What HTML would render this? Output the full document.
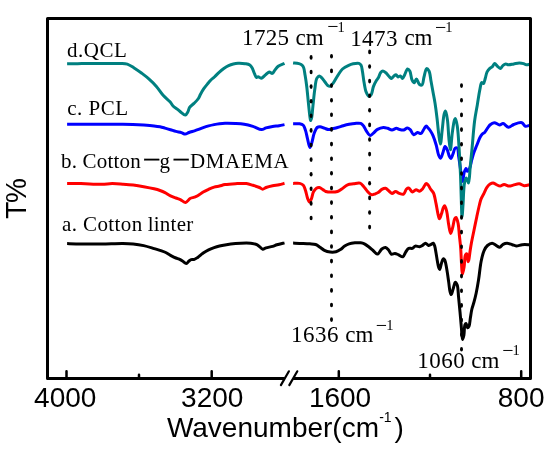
<!DOCTYPE html>
<html><head><meta charset="utf-8"><style>
html,body{margin:0;padding:0;background:#fff;}
svg{display:block;}
.serif{font-family:"Liberation Serif",serif;}
.sans{font-family:"Liberation Sans",sans-serif;}
</style></head><body>
<svg width="550" height="449" viewBox="0 0 550 449">
<rect x="0" y="0" width="550" height="449" fill="#fff"/>
<g fill="none" stroke-width="3" stroke-linejoin="round" stroke-linecap="butt">
<path d="M67.10,243.60 C69.40,243.67 75.82,243.93 80.90,244.00 C87.15,244.09 94.83,244.10 101.80,244.00 C108.79,243.90 117.02,243.34 122.80,243.40 C126.87,243.44 129.74,243.54 133.20,243.90 C136.70,244.27 140.23,244.82 143.70,245.60 C147.20,246.38 150.63,247.54 154.10,248.60 C157.60,249.67 161.65,250.71 164.60,252.00 C166.91,253.01 168.57,254.28 170.50,255.30 C172.33,256.27 174.30,257.31 175.90,258.00 C177.12,258.52 178.12,258.71 179.20,259.20 C180.32,259.71 181.38,260.32 182.50,261.00 C183.74,261.74 185.17,263.59 186.30,263.50 C187.31,263.42 188.12,261.68 189.00,261.00 C189.74,260.43 190.36,259.87 191.20,259.60 C192.13,259.30 193.36,259.72 194.40,259.40 C195.54,259.04 196.49,258.24 197.70,257.40 C199.33,256.27 201.34,254.39 203.20,253.10 C204.97,251.87 206.75,250.73 208.60,249.80 C210.39,248.90 212.26,248.24 214.10,247.60 C215.89,246.98 217.68,246.45 219.50,246.00 C221.31,245.55 222.87,245.25 225.00,244.90 C227.93,244.43 231.67,243.87 235.50,243.60 C240.09,243.27 246.69,242.89 250.70,243.30 C253.37,243.57 255.31,243.83 257.30,244.80 C259.32,245.78 261.05,248.94 262.70,249.20 C263.88,249.38 264.69,248.30 266.00,247.90 C267.81,247.34 270.65,246.98 272.60,246.40 C274.20,245.92 275.25,245.31 276.90,244.80 C279.06,244.13 283.23,243.22 284.50,242.90" stroke="#000000"/>
<path d="M293.10,243.10 C294.67,243.15 299.57,243.27 302.50,243.40 C305.09,243.51 307.51,243.60 309.80,243.80 C311.85,243.98 313.86,243.89 315.60,244.50 C317.24,245.07 318.55,246.23 320.00,247.20 C321.49,248.19 322.75,249.59 324.40,250.40 C326.13,251.25 328.25,251.87 330.20,252.10 C332.11,252.32 334.24,252.26 336.00,251.80 C337.62,251.37 338.99,250.52 340.40,249.60 C341.90,248.62 343.20,246.98 344.70,246.00 C346.11,245.08 347.49,244.33 349.10,243.80 C350.86,243.22 352.96,242.97 354.90,242.80 C356.83,242.64 359.00,242.55 360.70,242.80 C362.09,243.00 363.17,243.32 364.40,243.90 C365.83,244.58 367.29,245.73 368.70,246.80 C370.19,247.92 371.63,249.28 373.10,250.50 C374.56,251.71 376.10,254.23 377.50,254.10 C379.01,253.96 380.28,250.11 381.80,249.00 C382.98,248.14 384.38,247.35 385.50,247.50 C386.57,247.64 387.51,248.75 388.40,249.70 C389.47,250.85 390.08,253.59 391.30,254.10 C392.32,254.53 393.72,253.29 394.90,253.40 C396.12,253.51 397.24,254.29 398.50,254.80 C399.90,255.37 401.71,257.08 402.90,256.70 C404.19,256.29 404.78,253.35 405.80,251.90 C406.72,250.58 407.52,248.87 408.70,248.30 C409.76,247.79 411.30,248.67 412.40,248.30 C413.49,247.93 414.17,246.38 415.30,246.10 C416.54,245.79 418.33,246.98 419.60,246.80 C420.69,246.64 421.55,245.97 422.50,245.40 C423.52,244.79 424.51,243.19 425.50,243.20 C426.48,243.21 427.45,245.23 428.40,245.40 C429.18,245.54 429.93,245.02 430.70,244.70 C431.56,244.34 432.64,243.09 433.30,243.30 C433.97,243.51 434.30,244.86 434.70,246.00 C435.29,247.70 435.58,250.36 436.00,252.70 C436.45,255.25 436.83,258.16 437.30,260.70 C437.73,263.04 438.16,265.85 438.70,267.40 C439.01,268.29 439.36,269.43 439.70,269.40 C440.26,269.35 440.74,265.26 441.40,263.40 C441.99,261.72 442.70,258.84 443.40,258.70 C443.82,258.62 444.31,259.29 444.70,260.00 C445.56,261.56 446.09,265.47 446.70,268.70 C447.45,272.67 448.11,278.04 448.70,282.10 C449.19,285.48 449.42,289.13 450.00,291.40 C450.35,292.77 450.76,294.61 451.20,294.60 C451.79,294.59 452.53,290.72 453.20,288.70 C453.90,286.59 454.48,282.32 455.30,282.20 C455.88,282.12 456.70,283.65 457.20,285.00 C458.16,287.59 458.15,293.10 458.60,297.40 C459.09,302.04 459.54,306.95 460.00,311.90 C460.48,317.08 460.95,322.92 461.40,327.80 C461.78,331.97 461.90,339.33 462.50,339.40 C462.88,339.44 463.53,336.86 463.90,335.10 C464.46,332.45 464.14,326.69 464.90,324.90 C465.22,324.14 465.74,323.43 466.10,323.50 C466.66,323.61 466.87,327.64 467.50,327.80 C467.93,327.91 468.59,327.17 469.00,326.40 C469.85,324.80 469.92,320.60 470.40,317.70 C470.88,314.80 471.25,311.75 471.90,309.00 C472.50,306.44 473.41,304.25 474.10,301.70 C474.85,298.94 475.52,296.23 476.20,293.00 C477.04,289.00 477.83,284.36 478.60,279.50 C479.50,273.83 480.10,266.25 481.20,261.00 C482.03,257.01 482.83,253.38 484.10,250.60 C485.06,248.51 486.08,246.73 487.50,245.50 C488.79,244.38 490.62,243.29 492.10,243.30 C493.48,243.31 494.81,244.62 496.10,245.30 C497.34,245.95 498.56,247.42 499.70,247.30 C500.90,247.17 501.83,244.97 503.10,244.30 C504.31,243.66 505.69,243.28 507.10,243.30 C508.70,243.32 510.61,244.24 512.20,244.70 C513.62,245.11 514.72,245.83 516.20,245.90 C517.99,245.98 520.09,244.91 522.20,244.70 C524.50,244.47 528.28,244.70 529.50,244.70" stroke="#000000"/>
<path d="M67.10,183.60 C69.40,183.60 75.82,183.53 80.90,183.60 C87.15,183.69 96.02,184.28 101.80,184.20 C105.90,184.14 108.80,183.60 112.30,183.60 C115.80,183.60 119.31,183.95 122.80,184.20 C126.28,184.45 129.73,184.69 133.20,185.10 C136.70,185.52 140.22,186.08 143.70,186.70 C147.18,187.32 151.13,188.07 154.10,188.80 C156.36,189.35 158.13,189.84 160.00,190.50 C161.75,191.12 163.32,191.76 165.00,192.60 C166.82,193.51 168.64,194.89 170.50,195.80 C172.28,196.67 174.19,197.34 175.90,198.00 C177.44,198.59 178.78,198.93 180.30,199.60 C182.03,200.36 184.06,202.60 185.70,202.40 C187.32,202.20 188.54,199.37 190.10,198.50 C191.46,197.74 193.07,197.68 194.40,197.20 C195.59,196.77 196.50,196.46 197.70,195.80 C199.34,194.90 201.34,193.10 203.20,192.00 C204.97,190.95 206.77,190.12 208.60,189.30 C210.41,188.49 212.25,187.65 214.10,187.10 C215.88,186.57 217.70,186.41 219.50,186.00 C221.33,185.58 222.86,184.96 225.00,184.60 C227.92,184.11 231.96,183.87 235.50,183.70 C239.10,183.53 243.26,183.21 246.40,183.60 C248.87,183.91 250.74,184.66 252.90,185.30 C255.10,185.95 257.72,186.74 259.50,187.50 C260.79,188.05 261.62,189.19 262.70,189.20 C263.79,189.21 264.68,188.01 266.00,187.50 C267.79,186.80 270.39,186.15 272.60,185.70 C274.76,185.26 277.05,185.23 279.10,184.80 C281.00,184.41 283.60,183.55 284.50,183.30" stroke="#ff0000"/>
<path d="M293.10,183.40 C294.18,183.40 297.78,182.96 299.60,183.40 C301.06,183.75 302.34,184.28 303.30,185.30 C304.40,186.48 304.84,188.48 305.50,190.40 C306.31,192.74 306.78,196.30 307.60,198.40 C308.17,199.88 308.86,201.98 309.50,202.00 C310.09,202.02 310.74,200.33 311.30,199.10 C312.13,197.26 312.48,193.73 313.50,191.80 C314.29,190.30 315.30,188.90 316.40,188.20 C317.28,187.64 318.31,187.35 319.30,187.50 C320.47,187.67 321.77,188.90 322.90,189.60 C323.93,190.24 324.61,191.08 325.80,191.50 C327.35,192.05 329.66,192.10 331.60,192.10 C333.56,192.10 335.75,192.09 337.50,191.50 C339.11,190.96 340.28,189.90 341.80,188.90 C343.61,187.72 345.56,185.64 347.60,184.80 C349.47,184.03 351.48,184.08 353.50,183.80 C355.61,183.51 358.25,182.53 360.00,183.10 C361.51,183.60 362.44,185.14 363.60,186.40 C364.89,187.80 365.94,189.78 367.30,191.20 C368.61,192.57 370.13,194.48 371.60,194.80 C372.81,195.07 374.15,194.19 375.30,193.80 C376.34,193.45 377.23,193.21 378.20,192.60 C379.40,191.85 380.51,190.12 381.80,189.40 C382.96,188.76 384.39,188.10 385.50,188.30 C386.58,188.50 387.39,189.71 388.40,190.50 C389.54,191.39 390.76,193.28 392.00,193.40 C393.16,193.51 394.39,191.51 395.60,191.50 C396.82,191.49 397.98,192.97 399.30,193.40 C400.65,193.84 402.44,194.65 403.60,194.10 C404.94,193.46 405.43,189.98 406.50,189.00 C407.19,188.37 407.93,187.85 408.70,188.00 C409.85,188.22 411.10,191.73 412.40,191.90 C413.55,192.05 414.78,189.79 416.00,189.70 C417.18,189.61 418.50,191.34 419.60,191.20 C420.66,191.06 421.55,189.99 422.50,189.00 C423.77,187.67 425.04,183.77 426.20,183.60 C426.96,183.49 427.74,184.62 428.40,185.40 C429.20,186.34 429.70,187.79 430.50,189.00 C431.38,190.32 432.67,191.25 433.50,193.00 C434.71,195.57 435.25,199.90 436.00,203.40 C436.75,206.93 437.31,211.29 438.00,214.10 C438.46,215.97 438.84,218.67 439.40,218.70 C439.97,218.73 440.78,215.80 441.40,214.10 C442.13,212.10 442.65,208.82 443.40,207.40 C443.81,206.63 444.28,205.73 444.70,205.80 C445.41,205.92 446.12,209.10 446.70,211.40 C447.57,214.87 447.95,220.84 448.70,224.80 C449.31,228.00 449.97,233.37 450.70,233.40 C451.32,233.43 452.08,229.60 452.70,227.40 C453.43,224.78 453.80,220.26 454.70,218.70 C455.12,217.98 455.67,217.29 456.10,217.40 C456.88,217.60 457.58,221.02 458.10,223.40 C458.82,226.70 458.97,231.40 459.40,235.50 C459.84,239.73 460.37,244.06 460.70,248.40 C461.04,252.80 461.11,257.31 461.40,261.70 C461.68,266.01 461.84,274.46 462.40,274.50 C462.83,274.53 463.63,269.88 464.10,267.10 C464.69,263.60 464.50,257.08 465.40,255.10 C465.76,254.31 466.33,253.59 466.70,253.70 C467.45,253.92 467.63,261.64 468.10,261.70 C468.30,261.73 468.51,261.05 468.70,260.40 C469.20,258.72 469.63,254.01 470.10,251.00 C470.53,248.22 470.86,245.97 471.40,243.00 C472.09,239.23 473.11,234.52 474.00,230.20 C474.91,225.76 475.87,221.04 476.80,216.70 C477.67,212.66 478.60,208.23 479.40,205.00 C479.97,202.69 480.25,201.04 481.00,199.10 C481.79,197.07 483.08,195.10 484.10,193.10 C485.11,191.10 485.96,188.69 487.10,187.10 C488.01,185.84 489.02,184.79 490.10,184.10 C491.04,183.50 492.11,182.94 493.10,183.00 C494.11,183.06 495.02,184.01 496.10,184.50 C497.33,185.05 498.77,186.10 500.10,186.10 C501.43,186.10 502.68,184.55 504.10,184.50 C505.69,184.44 507.60,186.05 509.20,186.10 C510.61,186.14 511.73,185.46 513.20,185.10 C515.00,184.67 517.31,183.56 519.20,183.70 C520.96,183.83 522.48,185.53 524.20,185.70 C525.92,185.87 528.62,184.87 529.50,184.70" stroke="#ff0000"/>
<path d="M67.10,124.20 C69.40,124.20 75.82,124.20 80.90,124.20 C87.15,124.20 94.83,124.20 101.80,124.20 C108.79,124.20 115.81,124.05 122.80,124.20 C129.78,124.35 137.94,124.75 143.70,125.10 C147.77,125.34 151.13,125.56 154.10,125.90 C156.35,126.16 158.12,126.41 160.00,126.80 C161.75,127.16 163.30,127.63 165.00,128.10 C166.79,128.59 168.68,129.15 170.50,129.70 C172.31,130.25 174.08,130.92 175.90,131.40 C177.71,131.88 179.75,132.10 181.40,132.60 C182.80,133.03 183.94,134.11 185.20,134.10 C186.47,134.09 187.60,133.01 189.00,132.50 C190.65,131.90 192.92,131.32 194.50,130.80 C195.71,130.40 196.49,130.14 197.70,129.70 C199.29,129.12 201.37,128.24 203.20,127.60 C205.00,126.97 206.78,126.40 208.60,125.90 C210.42,125.40 212.27,124.97 214.10,124.60 C215.90,124.24 217.69,123.93 219.50,123.70 C221.32,123.47 222.87,123.28 225.00,123.20 C227.94,123.09 232.17,123.22 235.50,123.40 C238.54,123.57 241.32,123.71 244.20,124.20 C247.12,124.70 250.02,125.51 252.90,126.40 C255.82,127.30 259.19,129.62 261.60,129.60 C263.32,129.59 264.37,128.40 266.00,127.90 C267.96,127.30 270.40,126.77 272.60,126.40 C274.76,126.04 277.04,126.02 279.10,125.70 C280.99,125.41 283.60,124.78 284.50,124.60" stroke="#0000ff"/>
<path d="M293.10,123.80 C294.18,123.80 297.77,123.44 299.60,123.80 C301.04,124.08 302.35,124.37 303.30,125.30 C304.42,126.40 304.85,128.44 305.50,130.40 C306.33,132.88 306.86,136.22 307.60,139.10 C308.33,141.95 309.09,147.56 309.90,147.60 C310.57,147.63 311.35,144.09 312.00,142.00 C312.80,139.44 313.25,135.86 314.20,133.30 C315.01,131.12 315.86,128.52 317.10,127.50 C317.94,126.81 318.94,126.67 320.00,126.70 C321.32,126.74 322.94,127.71 324.40,128.20 C325.84,128.68 327.40,129.55 328.70,129.60 C329.76,129.64 330.46,129.17 331.60,128.90 C333.22,128.51 335.55,128.03 337.50,127.50 C339.45,126.97 341.36,126.24 343.30,125.70 C345.22,125.17 347.16,124.68 349.10,124.30 C351.03,123.92 352.96,123.55 354.90,123.40 C356.83,123.25 359.18,122.82 360.70,123.40 C361.94,123.88 362.72,124.89 363.60,126.00 C364.69,127.37 365.38,129.60 366.50,131.20 C367.59,132.76 368.98,135.36 370.20,135.50 C371.17,135.61 372.06,134.25 373.10,133.40 C374.44,132.31 375.81,130.38 377.50,129.40 C379.21,128.41 381.50,127.62 383.30,127.50 C384.83,127.40 386.18,127.90 387.60,128.30 C389.08,128.72 390.53,130.00 392.00,130.00 C393.47,130.00 395.08,128.30 396.40,128.30 C397.47,128.30 398.22,129.12 399.30,129.40 C400.58,129.73 402.26,130.24 403.60,130.00 C404.92,129.76 406.15,127.98 407.30,128.00 C408.33,128.02 409.27,128.85 410.20,129.70 C411.47,130.86 412.44,134.51 413.80,134.80 C414.93,135.04 416.23,132.80 417.50,132.60 C418.67,132.41 420.08,133.81 421.10,133.40 C422.32,132.91 423.08,130.30 424.00,129.00 C424.77,127.92 425.44,126.15 426.20,126.10 C426.91,126.05 427.70,127.51 428.40,128.30 C429.14,129.13 429.81,129.94 430.50,131.00 C431.38,132.34 432.27,133.90 433.10,135.80 C434.20,138.33 435.29,141.85 436.20,145.00 C437.13,148.24 437.62,152.62 438.60,155.00 C439.20,156.46 439.94,158.36 440.60,158.30 C441.49,158.22 442.41,153.77 443.20,151.70 C443.90,149.87 444.35,146.59 445.10,146.50 C445.72,146.42 446.58,148.32 447.20,149.60 C448.04,151.32 448.55,154.50 449.30,156.10 C449.78,157.13 450.28,158.53 450.80,158.50 C451.50,158.46 452.31,155.53 453.00,153.90 C453.75,152.12 454.08,148.91 455.10,148.20 C455.72,147.77 456.73,147.72 457.30,148.20 C458.43,149.16 458.24,153.81 458.70,156.80 C459.20,160.05 459.72,163.61 460.20,167.00 C460.68,170.37 461.08,174.45 461.60,177.10 C461.94,178.85 462.35,181.42 462.70,181.40 C463.19,181.38 463.41,175.16 464.10,172.80 C464.61,171.05 465.40,168.41 466.00,168.40 C466.49,168.39 466.83,171.24 467.40,171.30 C468.01,171.36 468.97,169.71 469.60,168.40 C470.59,166.34 471.05,162.46 471.80,159.70 C472.49,157.18 473.08,154.88 473.90,152.50 C474.74,150.08 475.84,147.71 476.80,145.30 C477.77,142.88 478.71,139.97 479.70,138.00 C480.42,136.55 481.01,135.39 481.90,134.40 C482.73,133.48 483.90,133.15 484.80,132.20 C485.87,131.07 486.78,129.18 487.70,127.90 C488.47,126.83 488.93,125.83 489.90,125.00 C491.02,124.04 492.67,122.78 494.20,122.70 C495.88,122.61 497.99,124.87 499.60,124.90 C500.89,124.92 501.85,123.45 503.10,123.60 C504.75,123.79 506.68,127.09 508.50,127.20 C510.25,127.30 511.80,125.22 513.80,124.50 C516.15,123.65 519.77,122.11 521.80,122.70 C523.40,123.16 524.04,125.90 525.40,126.30 C526.63,126.66 528.82,125.55 529.50,125.40" stroke="#0000ff"/>
<path d="M67.10,63.80 C69.55,63.77 76.42,63.64 81.80,63.60 C88.35,63.56 96.85,63.62 103.60,63.60 C109.46,63.58 115.63,63.33 120.00,63.50 C122.92,63.61 124.95,63.37 127.30,64.10 C129.80,64.87 132.13,66.70 134.50,68.20 C136.96,69.76 139.39,71.51 141.80,73.30 C144.26,75.14 146.73,76.98 149.10,79.10 C151.60,81.33 154.06,83.73 156.40,86.40 C158.91,89.26 161.16,93.10 163.60,95.80 C165.70,98.12 168.28,99.88 170.00,101.80 C171.36,103.32 172.02,104.93 173.30,106.20 C174.56,107.46 176.28,108.35 177.60,109.40 C178.79,110.35 179.69,111.29 180.90,112.20 C182.23,113.20 184.09,115.30 185.30,115.10 C186.41,114.91 187.29,112.89 188.00,111.60 C188.73,110.29 188.71,108.60 189.60,107.30 C190.61,105.83 192.57,104.82 194.00,103.40 C195.51,101.90 197.28,100.16 198.40,98.50 C199.35,97.09 199.68,95.70 200.50,94.20 C201.44,92.46 202.61,90.45 203.80,88.70 C204.97,86.98 206.36,85.31 207.60,83.80 C208.72,82.44 209.74,81.15 210.90,80.00 C212.01,78.90 213.17,78.14 214.40,77.00 C215.88,75.63 217.49,73.74 219.10,72.30 C220.63,70.92 222.19,69.63 223.80,68.50 C225.36,67.41 226.97,66.36 228.60,65.60 C230.14,64.88 231.72,64.38 233.30,64.00 C234.85,63.62 236.27,63.38 238.00,63.30 C240.12,63.20 242.99,63.37 245.10,63.70 C246.84,63.97 248.59,64.11 249.80,64.90 C250.89,65.61 251.48,66.74 252.20,68.00 C253.12,69.60 253.80,72.19 254.60,73.90 C255.24,75.27 255.76,77.26 256.50,77.50 C256.99,77.66 257.48,76.70 258.10,76.70 C258.96,76.69 260.14,78.31 261.20,78.20 C262.49,78.07 263.87,76.13 265.20,75.10 C266.53,74.07 267.91,72.15 269.20,72.00 C270.26,71.87 271.40,73.62 272.30,73.40 C273.25,73.17 273.82,71.47 274.70,70.40 C275.75,69.13 276.72,67.44 278.20,66.30 C279.89,65.00 283.45,63.80 284.50,63.30" stroke="#008080"/>
<path d="M293.10,62.90 C294.07,63.02 297.30,63.13 298.90,63.60 C300.13,63.96 301.20,64.40 302.00,65.10 C302.73,65.74 303.15,66.41 303.60,67.50 C304.34,69.31 304.62,72.48 305.10,75.30 C305.66,78.62 306.21,82.24 306.70,86.20 C307.29,90.93 307.77,96.74 308.30,101.80 C308.80,106.59 309.33,112.36 309.80,115.80 C310.08,117.82 310.24,120.57 310.60,120.60 C310.90,120.62 311.38,118.74 311.70,117.30 C312.26,114.74 312.45,110.44 312.90,106.40 C313.46,101.34 314.06,94.35 314.80,89.30 C315.40,85.25 315.63,80.62 316.80,78.40 C317.45,77.17 318.38,76.07 319.20,76.00 C319.95,75.93 320.73,76.88 321.50,77.60 C322.53,78.56 323.57,80.20 324.60,81.50 C325.63,82.80 326.61,84.64 327.70,85.40 C328.47,85.94 329.31,86.39 330.10,86.20 C331.14,85.95 332.14,84.45 333.20,83.10 C334.72,81.16 336.29,77.73 337.90,75.30 C339.39,73.05 340.65,70.68 342.50,69.00 C344.28,67.38 346.77,66.19 348.70,65.30 C350.25,64.58 351.51,64.12 353.10,63.80 C354.88,63.44 357.49,62.93 358.90,63.40 C359.90,63.73 360.54,64.35 361.10,65.30 C361.95,66.74 362.06,69.38 362.50,71.80 C363.04,74.81 363.39,78.61 364.00,82.00 C364.62,85.41 365.09,89.60 366.20,92.20 C366.98,94.03 368.14,96.40 369.10,96.50 C369.84,96.58 370.68,95.44 371.30,94.40 C372.33,92.67 372.58,88.82 373.50,86.40 C374.32,84.24 375.44,82.09 376.40,80.50 C377.11,79.33 377.85,78.74 378.50,77.60 C379.31,76.18 379.77,73.60 380.70,72.50 C381.34,71.75 382.07,71.11 382.90,71.10 C383.95,71.09 385.42,72.37 386.50,73.30 C387.64,74.28 388.53,76.00 389.50,76.90 C390.22,77.57 390.92,78.46 391.60,78.40 C392.35,78.34 393.04,76.83 393.80,76.20 C394.51,75.61 395.29,74.63 396.00,74.70 C396.76,74.77 397.41,76.76 398.20,76.90 C398.89,77.03 399.73,75.75 400.40,75.90 C401.18,76.08 401.83,78.45 402.50,78.40 C403.27,78.34 403.94,76.09 404.70,74.70 C405.63,73.00 406.58,69.07 407.60,68.90 C408.31,68.79 409.18,70.01 409.80,71.10 C410.86,72.96 411.01,77.74 412.00,79.80 C412.63,81.11 413.49,82.74 414.20,82.70 C414.96,82.66 415.63,79.09 416.40,79.10 C417.31,79.11 418.14,83.28 419.30,84.20 C420.11,84.84 421.29,85.41 422.00,85.00 C423.22,84.30 423.25,79.69 424.00,77.00 C424.78,74.22 425.47,68.88 426.60,68.60 C427.30,68.43 428.35,69.79 429.00,71.00 C430.12,73.10 430.35,77.58 431.00,81.00 C431.68,84.58 432.33,88.33 433.00,92.00 C433.67,95.67 434.38,99.04 435.00,103.00 C435.73,107.61 436.40,113.00 437.00,118.00 C437.60,123.00 437.98,128.38 438.60,133.00 C439.14,136.99 439.83,144.11 440.40,144.10 C441.07,144.09 441.67,134.03 442.30,129.00 C442.93,123.97 443.34,116.89 444.20,113.90 C444.59,112.55 445.09,111.06 445.50,111.10 C446.19,111.17 446.89,116.19 447.40,119.60 C448.16,124.64 448.32,133.01 448.90,138.50 C449.35,142.76 449.89,149.81 450.40,149.80 C451.02,149.79 451.54,138.10 452.30,132.80 C452.97,128.11 453.70,121.46 454.60,119.60 C454.89,119.01 455.21,118.53 455.50,118.60 C456.23,118.79 456.86,123.51 457.40,127.10 C458.30,133.15 458.78,143.61 459.30,151.70 C459.81,159.57 460.17,167.09 460.50,175.00 C460.84,183.19 461.02,192.47 461.30,200.00 C461.53,206.21 461.68,216.99 462.00,217.00 C462.27,217.01 462.71,209.23 463.00,205.00 C463.32,200.28 463.47,194.14 463.80,190.00 C464.03,187.07 464.09,184.65 464.60,182.50 C465.01,180.78 465.67,178.02 466.30,178.00 C466.97,177.98 467.92,183.09 468.50,183.00 C469.50,182.84 469.64,172.42 470.20,167.00 C470.78,161.42 471.28,156.42 471.90,150.00 C472.71,141.62 473.53,129.24 474.60,121.00 C475.40,114.83 476.40,110.26 477.30,104.90 C478.20,99.56 479.10,93.00 480.00,88.90 C480.57,86.30 480.80,83.00 481.70,82.60 C482.20,82.38 482.99,83.71 483.50,83.50 C484.35,83.15 484.72,80.05 485.30,78.20 C485.93,76.20 486.23,73.63 487.10,71.90 C487.82,70.48 488.83,69.32 489.80,68.40 C490.62,67.62 491.62,67.35 492.40,66.60 C493.24,65.78 493.75,63.68 494.60,63.60 C495.53,63.51 496.74,65.76 497.80,66.60 C498.71,67.32 499.66,68.52 500.50,68.40 C501.44,68.27 502.14,66.07 503.10,65.30 C503.93,64.63 504.88,63.97 505.80,63.90 C506.69,63.83 507.44,64.72 508.50,64.80 C509.96,64.91 512.02,64.20 513.80,63.90 C515.59,63.60 517.49,63.03 519.20,63.00 C520.74,62.98 522.33,63.24 523.60,63.60 C524.63,63.89 525.34,64.67 526.30,64.80 C527.30,64.93 528.97,64.38 529.50,64.30" stroke="#008080"/>
</g>
<g fill="#000"><ellipse cx="311.1" cy="57.4" rx="1.5" ry="2.3"/><ellipse cx="311.1" cy="72.0" rx="1.5" ry="2.3"/><ellipse cx="311.1" cy="86.6" rx="1.5" ry="2.3"/><ellipse cx="311.1" cy="101.2" rx="1.5" ry="2.3"/><ellipse cx="311.1" cy="115.8" rx="1.5" ry="2.3"/><ellipse cx="311.1" cy="130.4" rx="1.5" ry="2.3"/><ellipse cx="311.1" cy="145.0" rx="1.5" ry="2.3"/><ellipse cx="311.1" cy="159.6" rx="1.5" ry="2.3"/><ellipse cx="311.1" cy="174.2" rx="1.5" ry="2.3"/><ellipse cx="311.1" cy="188.8" rx="1.5" ry="2.3"/><ellipse cx="311.1" cy="203.4" rx="1.5" ry="2.3"/><ellipse cx="311.1" cy="218.0" rx="1.5" ry="2.3"/><ellipse cx="331.5" cy="56.3" rx="1.5" ry="2.3"/><ellipse cx="331.5" cy="70.9" rx="1.5" ry="2.3"/><ellipse cx="331.5" cy="85.6" rx="1.5" ry="2.3"/><ellipse cx="331.5" cy="100.2" rx="1.5" ry="2.3"/><ellipse cx="331.5" cy="114.8" rx="1.5" ry="2.3"/><ellipse cx="331.5" cy="129.4" rx="1.5" ry="2.3"/><ellipse cx="331.5" cy="144.1" rx="1.5" ry="2.3"/><ellipse cx="331.5" cy="158.7" rx="1.5" ry="2.3"/><ellipse cx="331.5" cy="173.3" rx="1.5" ry="2.3"/><ellipse cx="331.5" cy="188.0" rx="1.5" ry="2.3"/><ellipse cx="331.5" cy="202.6" rx="1.5" ry="2.3"/><ellipse cx="331.5" cy="217.2" rx="1.5" ry="2.3"/><ellipse cx="331.5" cy="231.9" rx="1.5" ry="2.3"/><ellipse cx="331.5" cy="246.5" rx="1.5" ry="2.3"/><ellipse cx="331.5" cy="261.1" rx="1.5" ry="2.3"/><ellipse cx="331.5" cy="275.8" rx="1.5" ry="2.3"/><ellipse cx="331.5" cy="290.4" rx="1.5" ry="2.3"/><ellipse cx="331.5" cy="305.0" rx="1.5" ry="2.3"/><ellipse cx="331.5" cy="319.6" rx="1.5" ry="2.3"/><ellipse cx="369.6" cy="51.9" rx="1.5" ry="2.3"/><ellipse cx="369.6" cy="66.5" rx="1.5" ry="2.3"/><ellipse cx="369.6" cy="81.1" rx="1.5" ry="2.3"/><ellipse cx="369.6" cy="95.7" rx="1.5" ry="2.3"/><ellipse cx="369.6" cy="110.3" rx="1.5" ry="2.3"/><ellipse cx="369.6" cy="124.9" rx="1.5" ry="2.3"/><ellipse cx="369.6" cy="139.5" rx="1.5" ry="2.3"/><ellipse cx="369.6" cy="154.1" rx="1.5" ry="2.3"/><ellipse cx="369.6" cy="168.7" rx="1.5" ry="2.3"/><ellipse cx="369.6" cy="183.3" rx="1.5" ry="2.3"/><ellipse cx="369.6" cy="197.9" rx="1.5" ry="2.3"/><ellipse cx="369.6" cy="212.5" rx="1.5" ry="2.3"/><ellipse cx="369.6" cy="227.1" rx="1.5" ry="2.3"/><ellipse cx="461.5" cy="85.6" rx="1.5" ry="2.3"/><ellipse cx="461.5" cy="100.2" rx="1.5" ry="2.3"/><ellipse cx="461.5" cy="114.9" rx="1.5" ry="2.3"/><ellipse cx="461.5" cy="129.6" rx="1.5" ry="2.3"/><ellipse cx="461.5" cy="144.2" rx="1.5" ry="2.3"/><ellipse cx="461.5" cy="158.8" rx="1.5" ry="2.3"/><ellipse cx="461.5" cy="173.5" rx="1.5" ry="2.3"/><ellipse cx="461.5" cy="188.1" rx="1.5" ry="2.3"/><ellipse cx="461.5" cy="202.8" rx="1.5" ry="2.3"/><ellipse cx="461.5" cy="217.4" rx="1.5" ry="2.3"/><ellipse cx="461.5" cy="232.1" rx="1.5" ry="2.3"/><ellipse cx="461.5" cy="246.8" rx="1.5" ry="2.3"/><ellipse cx="461.5" cy="261.4" rx="1.5" ry="2.3"/><ellipse cx="461.5" cy="276.1" rx="1.5" ry="2.3"/><ellipse cx="461.5" cy="290.7" rx="1.5" ry="2.3"/><ellipse cx="461.5" cy="305.4" rx="1.5" ry="2.3"/><ellipse cx="461.5" cy="320.0" rx="1.5" ry="2.3"/><ellipse cx="461.5" cy="334.6" rx="1.5" ry="2.3"/><ellipse cx="461.5" cy="349.3" rx="1.5" ry="2.3"/></g>
<g stroke="#000" stroke-width="3" fill="none" stroke-linecap="butt" stroke-linejoin="round">
<path d="M284.7,378.5 L47.5,378.5 L47.5,18.5 L530.5,18.5 L530.5,378.5 L293.1,378.5"/>
</g>
<g stroke="#000" stroke-width="2.5" stroke-linecap="round">
<path d="M66.5,377 V371.3 M211.7,377 V371.3 M338.8,377 V371.3 M521.2,377 V371.3 M139,377 V374.8 M430,377 V374.8"/>
</g>
<g stroke="#000" stroke-width="2.2" stroke-linecap="round">
<path d="M280.9,385.1 L288.9,371.3 M289.3,385.1 L297.3,371.3"/>
</g>
<g class="serif" fill="#000" font-size="21">
<text x="67" y="56.5" letter-spacing="0.5">d.QCL</text>
<text x="67.3" y="114.7" letter-spacing="0.5">c. PCL</text>
<text x="61" y="167.8" letter-spacing="0.2">b. Cotton</text>
<text x="144.3" y="166.2" stroke="#000" stroke-width="0.25">─</text>
<text x="159.6" y="167.8">g</text>
<text x="173.7" y="166.2" stroke="#000" stroke-width="0.25">─</text>
<text x="190" y="167.8" letter-spacing="0.6">DMAEMA</text>
<text x="62" y="230.7" letter-spacing="0.4">a. Cotton</text><text x="147.7" y="230.7" letter-spacing="0.25">linter</text>
</g>
<g class="serif" fill="#000" font-size="23">
<text x="242.1" y="45.3" letter-spacing="0.3">1725</text><text x="295.6" y="45.3">cm</text>
<text x="350.2" y="45.6" letter-spacing="0.4">1473</text><text x="404.4" y="45.4">cm</text>
<text x="291" y="342.2" letter-spacing="0.5">1636</text><text x="345.2" y="342.3">cm</text>
<text x="417.2" y="367.7" letter-spacing="0.5">1060</text><text x="471.2" y="367.6">cm</text>
</g>
<g class="serif" fill="#000">
<text font-size="20" x="327.2" y="33.4">−</text><text font-size="14.5" x="337.6" y="31.6">1</text>
<text font-size="20" x="434.9" y="34">−</text><text font-size="14.5" x="445.3" y="32.4">1</text>
<text font-size="20" x="375.7" y="331.5">−</text><text font-size="14.5" x="386.2" y="329.5">1</text>
<text font-size="20" x="502.3" y="356.9">−</text><text font-size="14.5" x="512.6" y="355">1</text>
</g>
<g class="sans" fill="#000" font-size="28">
<text x="34.1" y="407.3">4000</text>
<text x="181.1" y="407.3">3200</text>
<text x="308.9" y="407.3">1600</text>
<text x="497.8" y="407.3">800</text>
<text x="166.9" y="437.4">Wavenumber(cm</text>
<text x="394.5" y="437.4">)</text>
<text font-size="14" x="379.2" y="422.2">-1</text>
<text transform="translate(25.8,218.7) rotate(-90) scale(1,1.05)" letter-spacing="-1.5">T%</text>
</g>
</svg>
</body></html>
